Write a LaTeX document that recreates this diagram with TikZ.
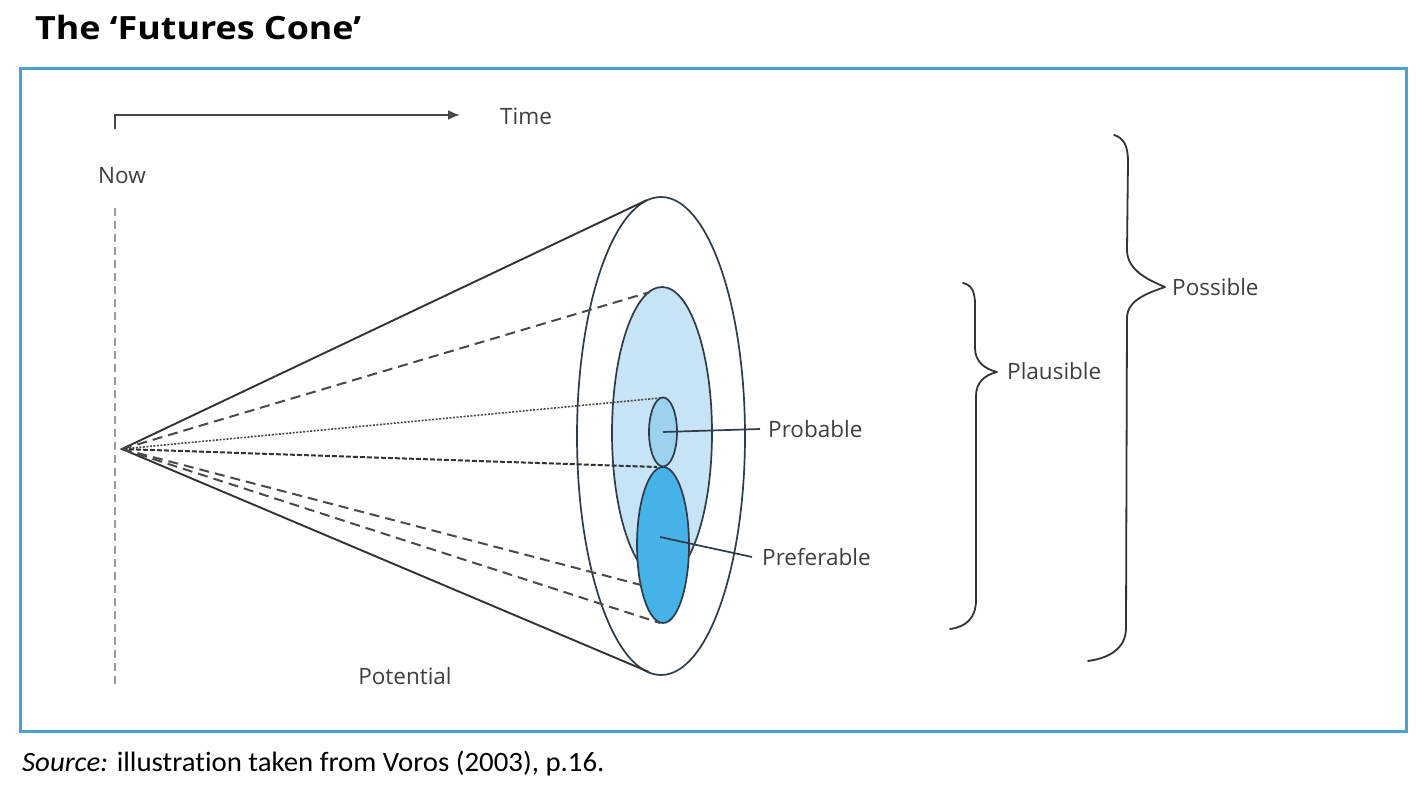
\documentclass[tikz,border=0pt]{standalone}
\usepackage{fontspec}
\setmainfont{Open Sans}
\newfontfamily\titlefont[FakeStretch=1.12]{Open Sans}
\newfontfamily\capfont[FakeStretch=1.03,Ligatures=NoCommon]{Carlito}
\usetikzlibrary{arrows.meta,shapes.geometric}
\definecolor{framecol}{HTML}{4F9FD2}
\definecolor{linegrey}{HTML}{333333}
\definecolor{dashgrey}{HTML}{4A4A4A}
\definecolor{nowgrey}{HTML}{9A9A9A}
\definecolor{labelgrey}{HTML}{3F3F3F}
\definecolor{plausfill}{HTML}{C6E4F6}
\definecolor{probfill}{HTML}{9CD2F0}
\definecolor{preffill}{HTML}{45B3E8}
\definecolor{ellborder}{HTML}{2E3B48}
\begin{document}
\begin{tikzpicture}[x=1pt,y=-1pt,
  lbl/.style={font=\fontsize{22.5}{26}\selectfont, text=labelgrey, inner sep=0pt},
  conel/.style={draw=linegrey, line width=1.9pt},
  ell/.style={ellipse, draw=ellborder, line width=1.7pt, inner sep=0pt},
  longdash/.style={draw=dashgrey, line width=2pt, dash pattern=on 10pt off 6pt},
  densedash/.style={draw=linegrey, line width=2pt, dash pattern=on 5pt off 2pt},
  dotline/.style={draw=dashgrey, line width=1.6pt, dash pattern=on 2pt off 1.5pt},
  bracecurve/.style={draw=linegrey, line width=1.8pt, line cap=round, line join=round},
  pointer/.style={draw=ellborder, line width=1.7pt}]
\useasboundingbox (0,0) rectangle (1417,791);
\fill[white] (0,0) rectangle (1417,791);

% title and caption
\node[anchor=base west, inner sep=0pt, font=\titlefont\bfseries\fontsize{32}{38}\selectfont] (title) at (35,40) {The ‘Futures Cone’};
\node[anchor=base west, inner sep=0pt, font=\capfont\fontsize{28}{32}\selectfont] (caption) at (22,771) {\textit{Source:} illustration taken from Voros (2003), p.16.};

% frame
\draw[framecol, line width=3pt] (20,69) rectangle (1406,731);

% time arrow
\coordinate (tick) at (115,129);
\coordinate (tcorner) at (115,115);
\coordinate (ttip) at (460,115);
\draw[linegrey!90, line width=2.2pt, -{Latex[length=12pt,width=10pt]}] (tick) -- (tcorner) -- (ttip);
\node[lbl, anchor=west] (time) at (500,116) {Time};

% now
\node[lbl] (now) at (122,176) {Now};
\coordinate (nowtop) at (115,208);
\coordinate (nowbot) at (115,686);
\draw[nowgrey, line width=2.6pt, dash pattern=on 8pt off 5pt] (nowtop) -- (nowbot);

% ellipses
\node[ell, minimum width=168pt, minimum height=478pt] (possible) at (661,436) {};
\node[ell, fill=plausfill, minimum width=100pt, minimum height=292pt] (plaus) at (662,433) {};
\node[ell, fill=probfill, minimum width=28pt, minimum height=69pt] (prob) at (663,432) {};
\node[ell, fill=preffill, minimum width=52pt, minimum height=156pt] (pref) at (663,545) {};

% apex and cone
\coordinate (apex) at (122,449);
\coordinate (ctop) at (647,200);
\coordinate (cbot) at (649,672);
\draw[conel] (ctop) -- (apex) -- (cbot);

% inner projection lines
\coordinate (pltop) at (650,292);
\coordinate (prtop) at (660,398);
\coordinate (junc) at (657,467);
\coordinate (prefleft) at (641,585);
\coordinate (prefbot) at (660,623);
\draw[longdash] (apex) -- (pltop);
\draw[dotline] (apex) -- (prtop);
\draw[densedash] (apex) -- (junc);
\draw[longdash] (apex) -- (prefleft);
\draw[longdash] (apex) -- (prefbot);

% labels with pointers
\node[lbl, anchor=west] (probtxt) at (768,429) {Probable};
\draw[pointer] (prob.center) -- (probtxt.west -| 760,0);
\coordinate (prefin) at (660,537);
\coordinate (prefout) at (752,557);
\node[lbl, anchor=west] (preftxt) at (762,557) {Preferable};
\draw[pointer] (prefin) -- (prefout);

\node[lbl] (potential) at (405,676) {Potential};

% plausible brace
\coordinate (pltip) at (997,372);
\draw[bracecurve] (963,283) .. controls (972,285) and (975,292) .. (975,305)
  -- (975,348) .. controls (975,362) and (985,369) .. (pltip)
  .. controls (985,375) and (976,382) .. (976,396)
  -- (976,600) .. controls (976,618) and (966,627) .. (950,629);
\node[lbl, anchor=west] (plaustxt) at (1007,371) {Plausible};

% possible brace
\coordinate (potip) at (1165,287);
\draw[bracecurve] (1114,135) .. controls (1124,138) and (1128,146) .. (1128,162)
  -- (1127,250) .. controls (1127,270) and (1148,280) .. (potip)
  .. controls (1148,293) and (1127,300) .. (1127,318)
  -- (1126,628) .. controls (1126,648) and (1110,658) .. (1088,661);
\node[lbl, anchor=west] (posstxt) at (1172,287) {Possible};
\end{tikzpicture}
\end{document}
